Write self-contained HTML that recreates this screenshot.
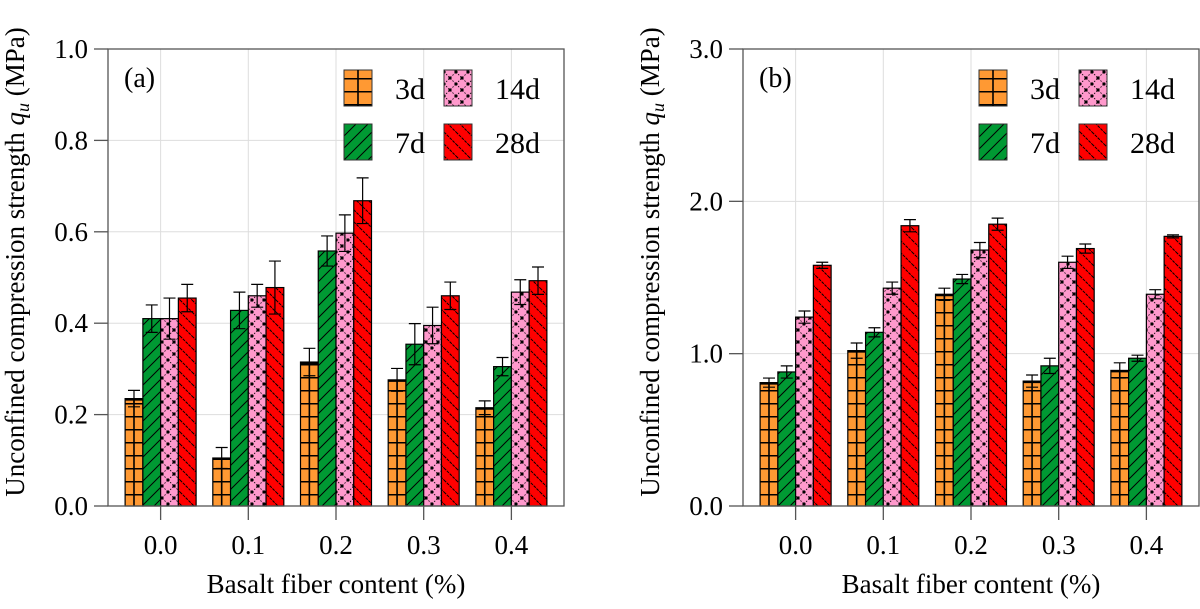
<!DOCTYPE html>
<html><head><meta charset="utf-8"><style>
body{margin:0;background:#fff;width:1200px;height:604px;overflow:hidden}
svg text{font-family:"Liberation Serif","Times New Roman",Times,"Nimbus Roman","FreeSerif","DejaVu Serif",serif}
</style></head><body>
<svg id="c" width="1200" height="604" viewBox="0 0 1200 604">
<defs>
<pattern id="p3" patternUnits="userSpaceOnUse" width="18" height="13"><rect width="18" height="13" fill="#FF9933"/><line x1="0" y1="0.5" x2="18" y2="0.5" stroke="#000" stroke-width="2"/></pattern>
<pattern id="p7" patternUnits="userSpaceOnUse" width="12" height="12"><rect width="12" height="12" fill="#009933"/><path d="M0,12 L12,0 M-3,3 L3,-3 M9,15 L15,9" stroke="#000" stroke-width="1"/></pattern>
<pattern id="p14" patternUnits="userSpaceOnUse" width="12" height="12"><rect width="12" height="12" fill="#FF99CC"/><path d="M0,0 L12,12 M0,12 L12,0" stroke="#000" stroke-width="0.8" stroke-dasharray="1.5,1.5"/><circle cx="6" cy="6" r="1.6" fill="#000"/><circle cx="0" cy="0" r="1.6" fill="#000"/><circle cx="12" cy="0" r="1.6" fill="#000"/><circle cx="0" cy="12" r="1.6" fill="#000"/><circle cx="12" cy="12" r="1.6" fill="#000"/></pattern>
<pattern id="p28" patternUnits="userSpaceOnUse" width="12" height="12"><rect width="12" height="12" fill="#FF0000"/><path d="M0,0 L12,12 M-3,9 L3,15 M9,-3 L15,3" stroke="#000" stroke-width="1" stroke-dasharray="3,1"/></pattern>
</defs>
</svg>
<script>
const categories = ["0.0","0.1","0.2","0.3","0.4"];
const series = ["3d","7d","14d","28d"];
const a3 = [0.235,0.105,0.315,0.276,0.215];
const a7 = [0.41,0.428,0.558,0.354,0.305];
const a14 = [0.41,0.46,0.597,0.395,0.468];
const a28 = [0.455,0.478,0.668,0.46,0.493];
const aErr3 = [0.018,0.023,0.03,0.025,0.015];
const aErr7 = [0.03,0.04,0.033,0.045,0.02];
const aErr14 = [0.045,0.025,0.04,0.04,0.027];
const aErr28 = [0.03,0.058,0.05,0.03,0.03];
const b3 = [0.81,1.02,1.39,0.82,0.89];
const b7 = [0.88,1.14,1.49,0.92,0.97];
const b14 = [1.24,1.43,1.68,1.60,1.39];
const b28 = [1.58,1.84,1.85,1.69,1.77];
const bErr3 = [0.03,0.05,0.04,0.04,0.05];
const bErr7 = [0.04,0.03,0.03,0.05,0.02];
const bErr14 = [0.04,0.04,0.05,0.04,0.03];
const bErr28 = [0.02,0.04,0.04,0.03,0.01];
const aTicks = ["0.0","0.2","0.4","0.6","0.8","1.0"];
const bTicks = ["0.0","1.0","2.0","3.0"];

const svg = document.getElementById('c');
const NS = 'http://www.w3.org/2000/svg';
function mk(tag, attrs, parent){const e=document.createElementNS(NS,tag);for(const k in attrs)e.setAttribute(k,attrs[k]);(parent||svg).appendChild(e);return e;}
const fills=['url(#p3)','url(#p7)','url(#p14)','url(#p28)'];

function panel(cfg){
  const g=mk('g',{});
  
  
  const L=cfg.left,R=cfg.right,T=49,B=506;
  const step=(R-L)/5.2;
  const xs=i=>L+step*(0.6+i);
  const ys=v=>B-(v/cfg.max)*(B-T);
  cfg.ticks.forEach(t=>{const y=ys(parseFloat(t));mk('line',{x1:L,x2:R,y1:y,y2:y,stroke:'#ddd','stroke-width':1},g);});
  categories.forEach((c,i)=>{mk('line',{x1:xs(i),x2:xs(i),y1:T,y2:B,stroke:'#ddd','stroke-width':1},g);});
  const bw=17.75;
  cfg.vals.forEach((arr,s)=>{
    arr.forEach((v,i)=>{
      const x=xs(i)-2*bw+s*bw, y=ys(v);
      const r=mk('rect',{x:x,y:y,width:bw,height:B-y,fill:fills[s],stroke:'#000','stroke-width':1.2},g);
      
      
      if(s===0){mk('line',{x1:x+bw/2,x2:x+bw/2,y1:y,y2:B,stroke:'#000','stroke-width':1.6},g);mk('line',{x1:x,x2:x+bw,y1:y+1,y2:y+1,stroke:'#000','stroke-width':2},g);}
      const e=cfg.errs[s][i],cx=x+bw/2,y1=ys(v+e),y2=ys(v-e);
      const eb=mk('path',{d:`M${cx},${y2}V${y1}M${cx-6},${y1}H${cx+6}M${cx-6},${y2}H${cx+6}`,stroke:'#000','stroke-width':1.2,fill:'none'},g);
      
      
    });
  });
  mk('rect',{x:L,y:T,width:R-L,height:B-T,fill:'none',stroke:'#555','stroke-width':1.3},g);
  cfg.ticks.forEach(t=>{const y=ys(parseFloat(t));mk('line',{x1:L-14,x2:L,y1:y,y2:y,stroke:'#555','stroke-width':1.3},g);
    const tx=mk('text',{x:L-20,y:y+9,'text-anchor':'end','font-size':27,fill:'#000'},g);tx.textContent=t;
    
    });
  categories.forEach((c,i)=>{mk('line',{x1:xs(i),x2:xs(i),y1:B,y2:B+14,stroke:'#555','stroke-width':1.3},g);
    const tx=mk('text',{x:xs(i),y:554,'text-anchor':'middle','font-size':27,fill:'#000'},g);tx.textContent=c;
    
    });
  const xt=mk('text',{x:(L+R)/2,y:593,'text-anchor':'middle','font-size':27,fill:'#000'},g);xt.textContent='Basalt fiber content (%)';
  
  
  const yt=mk('text',{x:0,y:0,'text-anchor':'middle','font-size':27,fill:'#000',transform:`translate(${cfg.ytx},262) rotate(-90)`},g);
  yt.innerHTML='Unconfined compression strength <tspan font-style="italic">q</tspan><tspan font-style="italic" font-size="18" dy="5">u</tspan><tspan dy="-5"> (MPa)</tspan>';
  
  
  const pl=mk('text',{x:L+16,y:87,'font-size':28,fill:'#000'},g);pl.textContent=cfg.label;
  
  
  const lx=[cfg.legX,cfg.legX+100], ly=[70,124];
  series.forEach((s,k)=>{
    const cx=lx[k<2?0:1], cy=ly[k%2];
    const sw=mk('rect',{x:cx,y:cy,width:28,height:36,fill:fills[k],stroke:'#333','stroke-width':1},g);
    
    
    if(k===0){mk('line',{x1:cx+14,x2:cx+14,y1:cy,y2:cy+36,stroke:'#000','stroke-width':1.6},g);}
    const t=mk('text',{x:cx+51,y:cy+29,'font-size':30,fill:'#000'},g);t.textContent=s;
    
    
  });
}
panel({name:'panel-a',left:108,right:564,max:1.0,ticks:aTicks,vals:[a3,a7,a14,a28],errs:[aErr3,aErr7,aErr14,aErr28],ytx:24,label:'(a)',legX:344});
panel({name:'panel-b',left:743,right:1199,max:3.0,ticks:bTicks,vals:[b3,b7,b14,b28],errs:[bErr3,bErr7,bErr14,bErr28],ytx:659,label:'(b)',legX:979});
</script>
</body></html>
